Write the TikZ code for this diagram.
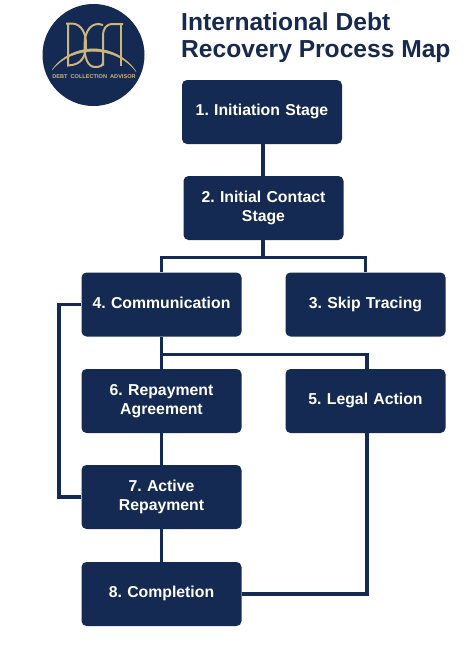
\documentclass[tikz,border=0pt]{standalone}
\usepackage{fontspec}
\setmainfont{Liberation Sans}
\frenchspacing
\usepackage{tikz}
\definecolor{dcanavy}{HTML}{152A52}
\definecolor{dcagold}{HTML}{CDB57E}
\definecolor{dcatitle}{HTML}{17294F}
\usetikzlibrary{calc,positioning}

\begin{document}
\begin{tikzpicture}[x=1pt,y=-1pt,line join=miter,
  stagebox/.style={rectangle,rounded corners=5pt,fill=dcanavy,text=white,
    minimum width=160pt,minimum height=64pt,inner sep=2pt,text width=150pt,align=center,
    font=\fontsize{15.8}{19}\selectfont\bfseries},
  link/.style={draw=dcanavy,line width=3.4pt},
  logoline/.style={draw=dcagold,line width=2pt}]
\path[use as bounding box] (0,0) rectangle (474,651);
\fill[white] (0,0) rectangle (474,651);
% logo
\fill[dcanavy] (93.5,55) circle[radius=51];
\draw[logoline] (66,23.5)--(72,23.5) .. controls (82,24) and (86,34) .. (86,44) .. controls (86,56) and (82,65) .. (68,65.5)--(68,23.5);
\draw[logoline] (103,25) .. controls (92,21) and (85,30) .. (84.5,44) .. controls (84,58) and (88,67) .. (95,67) .. controls (100,67) and (103,66) .. (103,62);
\draw[logoline] (103,65.5)--(103,36) .. controls (103,28) and (107,24) .. (112,24)--(123,24);
\draw[logoline] (120.5,24)--(120.5,65.5);
\draw[draw=dcagold,fill=dcagold] (52,70) .. controls (72,41.5) and (116,41.5) .. (136,71.5) .. controls (116,45) and (72,45) .. (52,70)--cycle;
\node[text=dcagold,font=\fontsize{5.6}{6}\selectfont\bfseries,inner sep=0pt] (logotext) at (94,76.7) {DEBT\ \ COLLECTION\ \ ADVISOR};
% title
\node[anchor=north west,text=dcatitle,align=left,inner sep=0pt,font=\fontsize{24.6}{27}\selectfont\bfseries] (title) at (181,12) {International Debt\\Recovery Process Map};
% stages
\node[stagebox] (initiation) at (262,112) {\strut 1. Initiation Stage};
\node[stagebox] (contact) at (263.5,208) {2. Initial Contact\\Stage};
\node[stagebox] (communication) at (161.5,304.5) {\strut 4. Communication};
\node[stagebox] (skip) at (365.5,304.5) {\strut 3. Skip Tracing};
\node[stagebox] (agreement) at (161.5,401) {6. Repayment\\Agreement};
\node[stagebox] (legal) at (365.5,401) {\strut 5. Legal Action};
\node[stagebox] (active) at (161.5,497) {7. Active\\Repayment};
\node[stagebox] (completion) at (161.5,594) {\strut 8. Completion};
% junctions
\coordinate (upperbus) at (263,257.5);
\coordinate (lowerbus) at (161.5,354.3);
\coordinate (loopleft) at (59,400);
\coordinate (legalin) at (367,401);
% connectors
\draw[link] (initiation.south -| upperbus) -- (contact.north -| upperbus);
\draw[link] (contact.south -| upperbus) -- (upperbus);
\draw[link] (communication.north) |- (upperbus) -| (skip.north);
\draw[link] (communication.south) -- (agreement.north);
\draw[link] (lowerbus) -| (legal.north -| legalin);
\draw[link] (agreement.south) -- (active.north);
\draw[link] (active.south) -- (completion.north);
\draw[link] (communication.west) -| (loopleft) |- (active.west);
\draw[link] (completion.east) -| (legal.south -| legalin);
\end{tikzpicture}
\end{document}
